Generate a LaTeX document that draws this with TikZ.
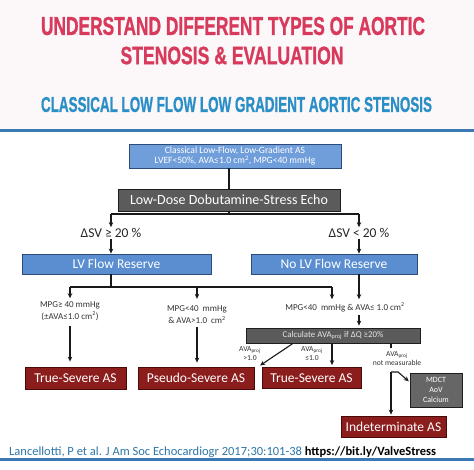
\documentclass[tikz,border=0pt]{standalone}
\usepackage{fontspec}
\setmainfont{Carlito}
\newfontfamily\titlefont[FakeBold=1.2]{Liberation Sans}
\usetikzlibrary{arrows.meta}
\definecolor{titlered}{HTML}{D83A5C}
\definecolor{subblue}{HTML}{2B8FC7}
\definecolor{topbg}{HTML}{FCF7F9}
\definecolor{rule}{HTML}{3A79B4}
\definecolor{boxblue}{HTML}{5A8ED0}
\definecolor{boxbluelt}{HTML}{6F9EDB}
\definecolor{boxblueedge}{HTML}{2C4B78}
\definecolor{boxgray}{HTML}{5B5B5B}
\definecolor{boxgrayedge}{HTML}{1E1E1E}
\definecolor{boxred}{HTML}{8C1D1D}
\definecolor{boxrededge}{HTML}{4A0A0A}
\definecolor{labgray}{HTML}{333333}
\definecolor{citeblue}{HTML}{2E77A8}
\begin{document}
\begin{tikzpicture}[x=1pt,y=-1pt,
  bx/.style={inner sep=0pt,line width=0.8pt,text=white,align=center},
  bluebox/.style={bx,draw=boxblueedge,fill=boxblue,font=\fontsize{13.5}{14}\selectfont},
  topbox/.style={bx,draw=boxblueedge,fill=boxbluelt,font=\fontsize{9.6}{10.5}\selectfont},
  graybox/.style={bx,draw=boxgrayedge,fill=boxgray},
  redbox/.style={bx,draw=boxrededge,fill=boxred,font=\fontsize{13.5}{14}\selectfont},
  lab/.style={inner sep=1pt,align=center,text=labgray,font=\fontsize{9}{12}\selectfont},
  small/.style={inner sep=1pt,align=center,text=labgray,font=\fontsize{7.6}{9}\selectfont},
  dlab/.style={inner sep=1pt,font=\fontsize{13.5}{14}\selectfont,text=black!85},
  ln/.style={line width=1.1pt,draw=black!90},
  arr/.style={ln,-{Stealth[length=5pt,width=4.5pt]}}]
\useasboundingbox (0,0) rectangle (474,469);
\fill[topbg] (0,0) rectangle (474,130);
\fill[white] (0,130) rectangle (474,469);
% titles
\node[inner sep=0pt,text=titlered] (title1) at (233,26)
  {\resizebox{384pt}{18pt}{\titlefont\bfseries UNDERSTAND DIFFERENT TYPES OF AORTIC}};
\node[inner sep=0pt,text=titlered] (title2) at (232,55.5)
  {\resizebox{223pt}{17.5pt}{\titlefont\bfseries STENOSIS \& EVALUATION}};
\node[inner sep=0pt,text=subblue] (subtitle) at (236.5,104.5)
  {\resizebox{391pt}{15pt}{\titlefont\bfseries CLASSICAL LOW FLOW LOW GRADIENT AORTIC STENOSIS}};
\draw[rule,line width=3pt] (0,130) -- (474,130);
\draw[rule,line width=3pt] (0,459) -- (474,459);
% boxes
\node[topbox,minimum width=212pt,minimum height=24pt] (top) at (235,156)
  {Classical Low-Flow, Low-Gradient AS\\LVEF<50\%, AVA≤1.0 cm\textsuperscript{2}, MPG<40 mmHg};
\node[graybox,minimum width=222pt,minimum height=22pt,font=\fontsize{14}{15}\selectfont] (dse) at (229,200)
  {Low-Dose Dobutamine-Stress Echo};
\node[dlab] (dsv1) at (111,233) {ΔSV ≥ 20 \%};
\node[dlab] (dsv2) at (359,233) {ΔSV < 20 \%};
\node[bluebox,minimum width=189pt,minimum height=20pt] (lvfr) at (116.5,264) {LV Flow Reserve};
\node[bluebox,minimum width=166pt,minimum height=20pt] (nolv) at (334,264) {No LV Flow Reserve};
\node[lab] (lab1) at (70,311) {MPG≥ 40 mmHg\\(±AVA≤1.0 cm\textsuperscript{2})};
\node[lab] (lab2) at (197,315) {MPG<40~ mmHg\\\& AVA>1.0~ cm\textsuperscript{2}};
\node[lab] (lab3) at (345,307) {MPG<40~ mmHg \& AVA≤ 1.0 cm\textsuperscript{2}};
\node[graybox,minimum width=174pt,minimum height=15pt,font=\fontsize{8.8}{10}\selectfont,text=white!90!black] (calc) at (333,335.5)
  {Calculate AVA\textsubscript{proj} if ΔQ ≥20\%};
\node[small] (ava1) at (250,354) {AVA\textsubscript{proj}\\>1.0};
\node[small] (ava2) at (312,354) {AVA\textsubscript{proj}\\≤1.0};
\node[small] (ava3) at (397,359) {AVA\textsubscript{proj}\\not measurable};
\node[redbox,minimum width=101pt,minimum height=22pt] (ts1) at (75.5,378) {True-Severe AS};
\node[redbox,minimum width=116pt,minimum height=22pt] (ps) at (196,378) {Pseudo-Severe AS};
\node[redbox,minimum width=99pt,minimum height=21pt] (ts2) at (311.5,378) {True-Severe AS};
\node[graybox,fill=black!60,minimum width=52pt,minimum height=34pt,font=\fontsize{8}{10}\selectfont] (mdct) at (436,390)
  {MDCT\\AoV\\Calcium};
\node[redbox,minimum width=105pt,minimum height=21pt] (ind) at (393.5,426.5) {Indeterminate AS};
\node[anchor=west,inner sep=0pt,font=\fontsize{12.5}{14}\selectfont] (cite) at (9,452)
  {\textcolor{citeblue}{Lancellotti, P et al. J Am Soc Echocardiogr 2017;30:101-38} \textbf{https://bit.ly/ValveStress}};
% connectors
\draw[ln] (top.south -| dse.north) -- (dse.north);
\coordinate (sL) at (111,214);
\coordinate (sR) at (359,214);
\draw[ln] (dse.south) -- (dse.south |- sL);
\draw[ln] (sL) -- (sR);
\draw[arr] (sL) -- (dsv1.north);
\draw[arr] (sR) -- (dsv2.north);
\draw[arr] (dsv1.south) -- (dsv1.south |- lvfr.north);
\draw[arr] (dsv2.south) -- (dsv2.south |- nolv.north);
\coordinate (jL) at (70,287);
\coordinate (jC) at (111,287);
\coordinate (jR) at (332,287);
\draw[ln] (jC |- lvfr.south) -- (jC);
\draw[ln] (jL) -- (jR);
\draw[arr,shorten >=2pt] (jL) -- (lab1.north);
\draw[arr,shorten >=6pt] (jL -| lab2.north) -- (lab2.north);
\draw[arr,shorten >=2pt] (jR) -- (jR |- lab3.north);
\draw[arr,shorten >=2pt] (nolv.south -| dsv2) -- (dsv2 |- lab3.north);
\draw[arr,shorten <=4pt,shorten >=5pt] (lab1.south) -- (lab1.south |- ts1.north);
\draw[arr,shorten <=2pt,shorten >=4pt] (lab2.south) -- (lab2.south |- ps.north);
\draw[arr,shorten <=2pt,shorten >=2pt] (dsv2 |- lab3.south) -- (dsv2 |- calc.north);
\draw[arr,shorten >=2pt] ([xshift=-40pt]calc.south) -- ([xshift=4pt]ps.north east);
\draw[arr,shorten >=2pt] (calc.south -| jR) -- (jR |- ts2.north);
\coordinate (nm) at (391,372);
\draw[ln] (calc.south -| nm) -- ++(0,5);
\draw[arr,shorten >=1pt] (nm) -- (nm |- ind.north);
\draw[arr,shorten >=1pt] (nm) -- ++(7,0) -- ([yshift=8pt]mdct.west);
\end{tikzpicture}
\end{document}
